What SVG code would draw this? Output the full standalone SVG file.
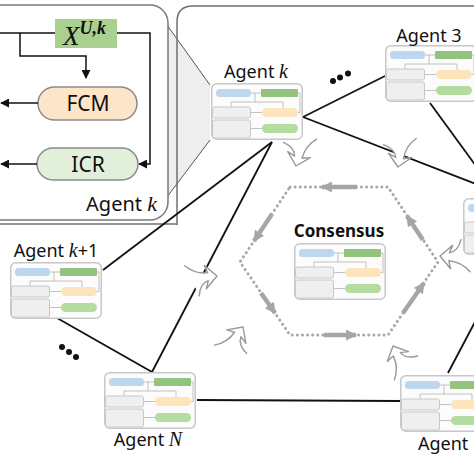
<svg xmlns="http://www.w3.org/2000/svg" xmlns:xlink="http://www.w3.org/1999/xlink" width="474" height="474" viewBox="0 0 474 474">
<style>
.lbl{font-family:"Noto Sans","Open Sans","Liberation Sans",sans-serif;font-size:18px;fill:#111}
.mi{font-family:"Liberation Serif",serif;font-style:italic}
.conn{stroke:#111;stroke-width:1.8;fill:none}
.blk{stroke:#111;stroke-width:1.5;fill:none}
.hexa{stroke:#a6a6a6;stroke-width:4.5;fill:none}
.curv{stroke:#9a9a9a;stroke-width:1.1;fill:#fff;stroke-linejoin:round;stroke-linecap:round}
.tl{stroke:#b3b3b3;stroke-width:0.8;fill:none}
</style>
<defs>
<marker id="ah" viewBox="0 0 10 10" refX="9" refY="5" markerWidth="9" markerHeight="9" markerUnits="userSpaceOnUse" orient="auto"><path d="M0,0 L10,5 L0,10 z" fill="#111"/></marker>
<marker id="gh" viewBox="0 0 10 10" refX="9" refY="5" markerWidth="12" markerHeight="11" markerUnits="userSpaceOnUse" orient="auto"><path d="M0,0 L10,5 L0,10 z" fill="#a6a6a6"/></marker>
<g id="agentbox">
<rect x="0.75" y="0.75" width="90.5" height="55.5" rx="5" fill="#fcfcfc" stroke="#c8c8c8" stroke-width="1.5"/>
<path class="tl" d="M40,10 H50 M44,10 V19 M20,19 H72 M20,19 V24 M72,19 V25 M87,10 H89 V29.5 H87 M39.5,29.5 H51 M39.5,45.5 H51"/>
<rect x="5" y="6" width="35" height="8" rx="3.5" fill="#bdd7ee"/>
<rect x="50" y="6" width="37" height="8" rx="1" fill="#93c47d"/>
<rect x="1.5" y="24" width="38" height="11" rx="2" fill="#efefef" stroke="#c8c8c8" stroke-width="1"/>
<rect x="1.5" y="37" width="38" height="18" rx="2" fill="#efefef" stroke="#c8c8c8" stroke-width="1"/>
<rect x="51" y="25" width="36" height="9" rx="4.5" fill="#fde4bd"/>
<rect x="51" y="41" width="36" height="9" rx="4.5" fill="#b4dba0"/>
</g>
<path id="carr" d="M-24,-10 C-18,-4 -12,-3 -7,-3 L-9,-9 L0,0 L-9,9 L-7,3 C-11,4 -14,8 -15,14"/>
</defs>
<rect width="474" height="474" fill="#fff"/>

<!-- zoom trapezoid and frames -->
<polygon points="167,25 210,85 210,140 167,197" fill="#eeeeee"/>
<path d="M167,25 L210,85 M167,197 L210,140" stroke="#555" stroke-width="1" fill="none"/>
<path d="M177,225 V22 Q177,6 193,6 H480" stroke="#707070" stroke-width="1.5" fill="none"/>
<path d="M0,224 H177" stroke="#707070" stroke-width="1.5" fill="none"/>

<!-- inset -->
<g id="inset">
<rect x="-30" y="5" width="198" height="215" rx="18" fill="#fff" stroke="#7a7a7a" stroke-width="1.5"/>
<rect x="55" y="19" width="62" height="29" fill="#a9d08e"/>
<text x="63" y="45" font-family="Liberation Serif,serif" font-style="italic" font-size="27" fill="#111">X<tspan font-size="18" dy="-11" font-weight="bold">U,k</tspan></text>
<path class="blk" d="M0,33 H55 M20,33 V56 H86 V78" marker-end="url(#ah)"/>
<path class="blk" d="M117,33 H150 V164 H139" marker-end="url(#ah)"/>
<rect x="38" y="87" width="99" height="33" rx="16.5" fill="#fce5c8" stroke="#8a8a8a" stroke-width="1.5"/>
<text x="88" y="111" text-anchor="middle" font-family="Noto Sans,Open Sans,Liberation Sans,sans-serif" font-size="21" fill="#111">FCM</text>
<rect x="37" y="148" width="101" height="32" rx="16" fill="#e2efda" stroke="#8a8a8a" stroke-width="1.5"/>
<text x="88" y="172" text-anchor="middle" font-family="Noto Sans,Open Sans,Liberation Sans,sans-serif" font-size="21" fill="#111">ICR</text>
<path class="blk" d="M38,103 H1" marker-end="url(#ah)"/>
<path class="blk" d="M37,164 H1" marker-end="url(#ah)"/>
<text x="157" y="211" text-anchor="end" class="lbl" style="font-size:20px">Agent <tspan class="mi" font-size="22">k</tspan></text>
</g>

<!-- connectors -->
<g id="connectors">
<path class="conn" d="M303,117 L385,76"/>
<path class="conn" d="M303,117 L476,184"/>
<path class="conn" d="M430,103 L476,166"/>
<path class="conn" d="M272,142 L103,270"/>
<path class="conn" d="M272,142 L152,372"/>
<path class="conn" d="M57,318 L152,372"/>
<path class="conn" d="M197,400 L400,401"/>
<path class="conn" d="M448,373 L476,320"/>
<!-- hexagon -->
<path d="M290,187 H388 L438,262 L388,335 H290 L240,262 Z" fill="none" stroke="#a8a8a8" stroke-width="3" stroke-dasharray="0.1 5" stroke-linecap="round"/>
<path class="hexa" d="M357,187 H322" marker-end="url(#gh)"/>
<path class="hexa" d="M324,335 H356" marker-end="url(#gh)"/>
<path class="hexa" d="M272,214 L254,241" marker-end="url(#gh)"/>
<path class="hexa" d="M261,293 L275,313" marker-end="url(#gh)"/>
<path class="hexa" d="M403,313 L424,283" marker-end="url(#gh)"/>
<path class="hexa" d="M423,240 L407,216" marker-end="url(#gh)"/>
<!-- curved arrows -->
<use href="#carr" class="curv" transform="translate(296,166) rotate(105) scale(1.3)"/>
<use href="#carr" class="curv" transform="translate(398,167) rotate(100) scale(1.3)"/>
<use href="#carr" class="curv" transform="translate(217,276) rotate(-5) scale(1.3)"/>
<use href="#carr" class="curv" transform="translate(243,327) rotate(-55) scale(1.3)"/>
<use href="#carr" class="curv" transform="translate(393,346) rotate(-115) scale(1.3)"/>
<use href="#carr" class="curv" transform="translate(440,256) rotate(185) scale(1.3)"/>
<!-- ellipses -->
<g fill="#111"><circle cx="333" cy="81" r="3"/><circle cx="340" cy="77.5" r="3"/><circle cx="348" cy="73.5" r="3"/>
<circle cx="62" cy="347" r="3"/><circle cx="69" cy="352" r="3"/><circle cx="76" cy="357" r="3"/></g>
</g>

<!-- nodes -->
<g id="agent-k"><use href="#agentbox" x="211" y="83"/><text x="256" y="78" text-anchor="middle" class="lbl">Agent <tspan class="mi" font-size="20">k</tspan></text></g>
<g id="agent-3"><use href="#agentbox" x="385" y="45"/><text x="429" y="42" text-anchor="middle" class="lbl">Agent 3</text></g>
<g id="agent-k1"><use href="#agentbox" x="10" y="262"/><text x="56" y="257" text-anchor="middle" class="lbl">Agent <tspan class="mi" font-size="20">k</tspan>+1</text></g>
<g id="agent-N"><use href="#agentbox" x="104" y="372"/><text x="148" y="446" text-anchor="middle" class="lbl">Agent <tspan class="mi" font-size="20">N</tspan></text></g>
<g id="agent-br"><use href="#agentbox" x="400" y="375"/><text x="418" y="450" class="lbl">Agent</text></g>
<g id="agent-r"><use href="#agentbox" x="463" y="198"/></g>
<g id="consensus"><use href="#agentbox" x="294" y="243"/><text x="339" y="237" text-anchor="middle" class="lbl" font-weight="bold" style="font-size:17px">Consensus</text></g>
</svg>
